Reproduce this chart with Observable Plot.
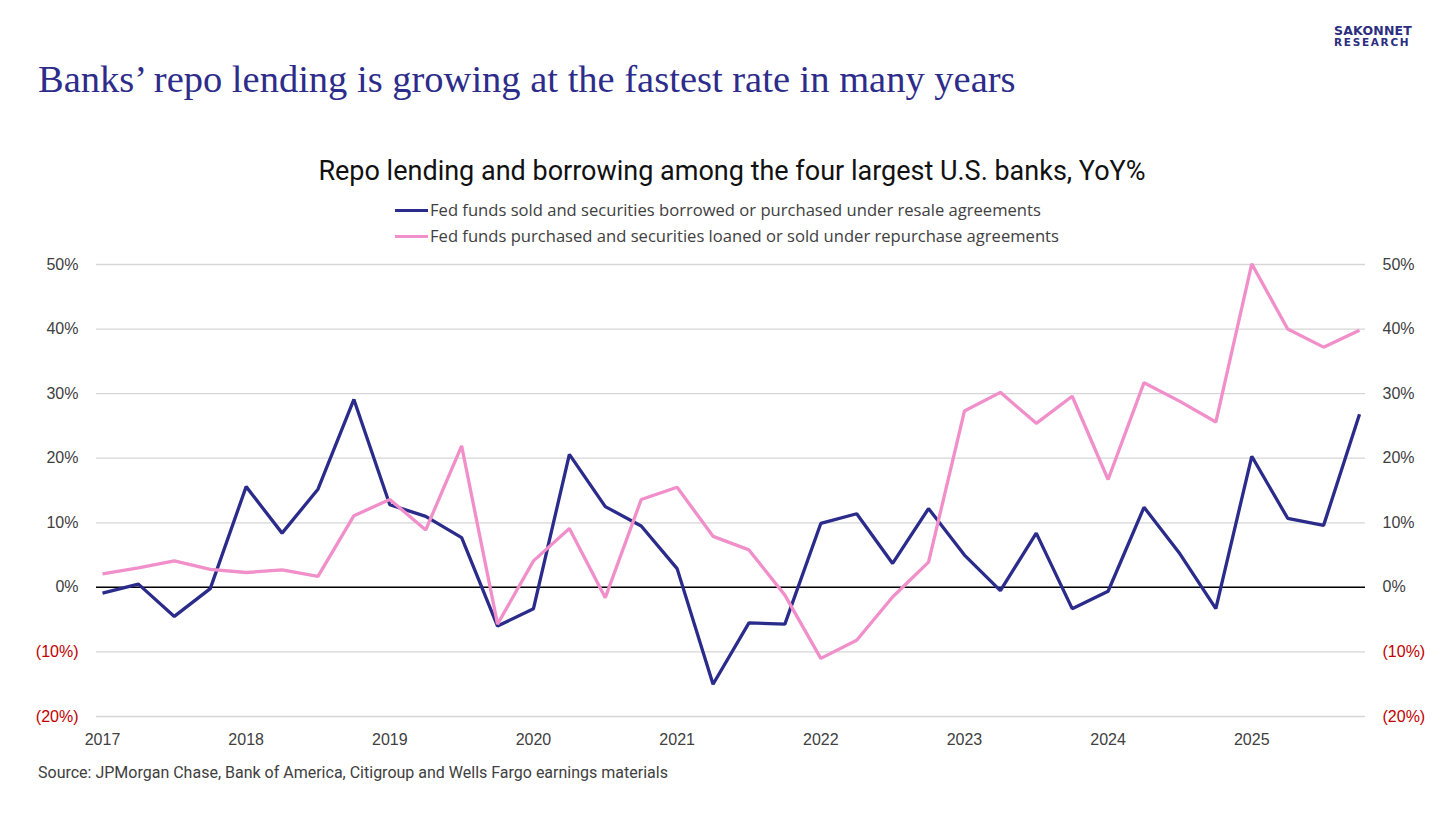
<!DOCTYPE html>
<html>
<head>
<meta charset="utf-8">
<script src="https://cdn.jsdelivr.net/npm/d3@7"></script>
<script src="https://cdn.jsdelivr.net/npm/@observablehq/plot@0.6"></script>
<style>
  html, body { margin: 0; padding: 0; background: #fff; }
  body { width: 1456px; height: 819px; position: relative; overflow: hidden; }
  .abs { position: absolute; white-space: nowrap; }
  #title { left: 38px; top: 57px; font-family: "Liberation Serif", serif; font-size: 38.5px; color: #2d2c8a; }
  #logo { left: 1334px; top: 25px; font-family: "DejaVu Sans", sans-serif; color: #2b2d80; font-weight: bold; }
  #logo .a { font-size: 12.5px; line-height: 12px; letter-spacing: 0.2px; }
  #logo .b { font-size: 10.5px; line-height: 11px; letter-spacing: 1.7px; }
  #subtitle { left: 0; width: 1456px; padding-left: 4px; text-align: center; top: 155px; font-family: Roboto, sans-serif; font-size: 27px; color: #111; }
  .leg { left: 395px; font-family: "Open Sans", sans-serif; font-size: 16.6px; color: #404040; }
  .leg span.sw { display: inline-block; width: 33px; height: 3px; vertical-align: middle; margin-right: 2px; position: relative; top: -1px; }
  #source { left: 38px; top: 763px; font-family: Roboto, sans-serif; font-size: 16px; color: #404040; }
  #chart { left: 0; top: 240px; }
</style>
</head>
<body>
<div id="title" class="abs">Banks’ repo lending is growing at the fastest rate in many years</div>
<div id="logo" class="abs"><div class="a">SAKONNET</div><div class="b">RESEARCH</div></div>
<div id="subtitle" class="abs">Repo lending and borrowing among the four largest U.S. banks, YoY%</div>
<div id="leg1" class="abs leg" style="top:198px"><span class="sw" style="background:#2a2b8a"></span>Fed funds sold and securities borrowed or purchased under resale agreements</div>
<div id="leg2" class="abs leg" style="top:224px"><span class="sw" style="background:#f08fc9"></span>Fed funds purchased and securities loaned or sold under repurchase agreements</div>
<div id="chart" class="abs"></div>
<div id="source" class="abs">Source: JPMorgan Chase, Bank of America, Citigroup and Wells Fargo earnings materials</div>
<script>
// Quarterly observations, 2017 Q1 .. 2025 Q4 (index 0..35)
const quarters = d3.range(36);
const resaleLending = [
  -0.9, 0.5, -4.5, -0.2, 15.6, 8.4, 15.2, 29.1,
  12.8, 11.0, 7.7, -6.0, -3.3, 20.6, 12.5, 9.5,
  2.9, -15.0, -5.5, -5.7, 9.9, 11.4, 3.7, 12.2,
  5.0, -0.5, 8.4, -3.3, -0.6, 12.4, 5.2, -3.3,
  20.3, 10.7, 9.6, 26.8
];
const repoBorrowing = [
  2.1, 3.0, 4.1, 2.8, 2.3, 2.7, 1.7, 11.1,
  13.6, 8.9, 21.9, -5.7, 4.1, 9.1, -1.6, 13.6,
  15.5, 7.9, 5.8, -1.2, -11.0, -8.2, -1.5, 3.9,
  27.3, 30.2, 25.4, 29.6, 16.7, 31.7, 28.8, 25.6,
  50.1, 40.0, 37.2, 39.8
];
const seriesNames = [
  "Fed funds sold and securities borrowed or purchased under resale agreements",
  "Fed funds purchased and securities loaned or sold under repurchase agreements"
];
const yearLabels = [2017, 2018, 2019, 2020, 2021, 2022, 2023, 2024, 2025];
const yearTickIdx = yearLabels.map((y, i) => i * 4);
const yTicksPos = [0, 10, 20, 30, 40, 50];
const yTicksNeg = [-10, -20];

const rows = [
  ...quarters.map(i => ({q: i, v: resaleLending[i], s: seriesNames[0]})),
  ...quarters.map(i => ({q: i, v: repoBorrowing[i], s: seriesNames[1]}))
];

const fmt = d => d < 0 ? `(${-d}%)` : `${d}%`;
const axisFont = {fontSize: 16, fontFamily: "Liberation Sans, Arial, sans-serif", label: null};

const chart = Plot.plot({
  width: 1456,
  height: 520,
  marginLeft: 96,
  marginRight: 91,
  marginTop: 24,
  marginBottom: 44,
  style: {background: "transparent", fontFamily: "Liberation Sans, Arial, sans-serif", fontSize: "16px"},
  x: {domain: [-0.167, 35.167], axis: null, label: null},
  y: {domain: [-20, 50], axis: null, label: null},
  color: {domain: seriesNames, range: ["#2a2b8a", "#f08fc9"]},
  marks: [
    Plot.gridY([...yTicksPos, ...yTicksNeg], {stroke: "#d6d6d6", strokeOpacity: 1, strokeWidth: 1.3}),
    Plot.ruleY([0], {stroke: "#000", strokeWidth: 1.5}),
    Plot.axisY(yTicksPos, {anchor: "left", tickSize: 0, tickPadding: 18, tickFormat: fmt, color: "#404040", ...axisFont}),
    Plot.axisY(yTicksNeg, {anchor: "left", tickSize: 0, tickPadding: 18, tickFormat: fmt, color: "#c00000", ...axisFont}),
    Plot.axisY(yTicksPos, {anchor: "right", tickSize: 0, tickPadding: 17, tickFormat: fmt, color: "#404040", ...axisFont}),
    Plot.axisY(yTicksNeg, {anchor: "right", tickSize: 0, tickPadding: 17, tickFormat: fmt, color: "#c00000", ...axisFont}),
    Plot.axisX(yearTickIdx, {anchor: "bottom", tickSize: 0, tickPadding: 17, tickFormat: (d, i) => String(yearLabels[i]), color: "#404040", ...axisFont}),
    Plot.line(rows, {x: "q", y: "v", z: "s", stroke: "s", strokeWidth: 3.3, strokeLinejoin: "miter", strokeLinecap: "butt"})
  ]
});
document.getElementById("chart").appendChild(chart);
</script>
</body>
</html>
